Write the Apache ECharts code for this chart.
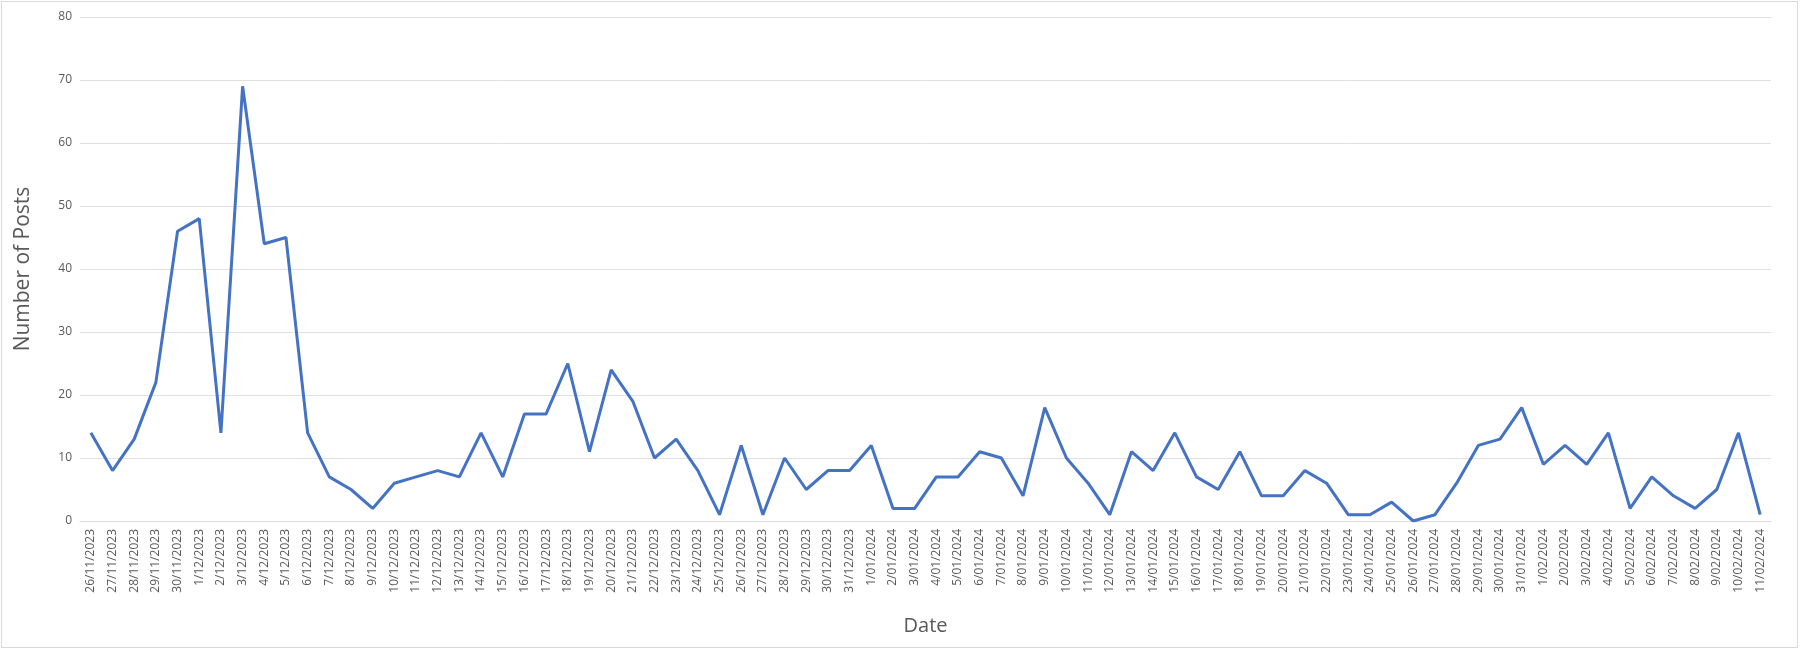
<!DOCTYPE html>
<html><head><meta charset="utf-8">
<script src="https://cdn.jsdelivr.net/npm/echarts@6/dist/echarts.min.js"></script>
<style>html,body{margin:0;padding:0;background:#fff}#c{width:1800px;height:650px}
#b{position:absolute;left:1px;top:1px;width:1795px;height:645px;border:1px solid #d9d9d9;pointer-events:none}</style>
</head><body><div id="c"></div><div id="b"></div>
<script>
const categories = ["26/11/2023","27/11/2023","28/11/2023","29/11/2023","30/11/2023","1/12/2023","2/12/2023","3/12/2023","4/12/2023","5/12/2023","6/12/2023","7/12/2023","8/12/2023","9/12/2023","10/12/2023","11/12/2023","12/12/2023","13/12/2023","14/12/2023","15/12/2023","16/12/2023","17/12/2023","18/12/2023","19/12/2023","20/12/2023","21/12/2023","22/12/2023","23/12/2023","24/12/2023","25/12/2023","26/12/2023","27/12/2023","28/12/2023","29/12/2023","30/12/2023","31/12/2023","1/01/2024","2/01/2024","3/01/2024","4/01/2024","5/01/2024","6/01/2024","7/01/2024","8/01/2024","9/01/2024","10/01/2024","11/01/2024","12/01/2024","13/01/2024","14/01/2024","15/01/2024","16/01/2024","17/01/2024","18/01/2024","19/01/2024","20/01/2024","21/01/2024","22/01/2024","23/01/2024","24/01/2024","25/01/2024","26/01/2024","27/01/2024","28/01/2024","29/01/2024","30/01/2024","31/01/2024","1/02/2024","2/02/2024","3/02/2024","4/02/2024","5/02/2024","6/02/2024","7/02/2024","8/02/2024","9/02/2024","10/02/2024","11/02/2024"];
const posts = [14,8,13,22,46,48,14,69,44,45,14,7,5,2,6,7,8,7,14,7,17,17,25,11,24,19,10,13,8,1,12,1,10,5,8,8,12,2,2,7,7,11,10,4,18,10,6,1,11,8,14,7,5,11,4,4,8,6,1,1,3,0,1,6,12,13,18,9,12,9,14,2,7,4,2,5,14,1];
const chart = echarts.init(document.getElementById('c'));
chart.setOption({
  animation:false,
  grid:{left:80,right:29,top:17,bottom:129},
  xAxis:{type:'category',data:categories,boundaryGap:true,name:'Date',nameLocation:'middle',nameGap:95,
    nameTextStyle:{fontSize:20,color:'#595959',fontFamily:'Open Sans'},
    axisLine:{lineStyle:{color:'#d9d9d9'}},axisTick:{show:false},
    axisLabel:{interval:0,rotate:90,fontSize:12,color:'#595959',fontFamily:'Open Sans'}},
  yAxis:{type:'value',min:0,max:80,interval:10,name:'Number of Posts',nameLocation:'middle',nameGap:46,
    nameTextStyle:{fontSize:21,color:'#595959',fontFamily:'Open Sans'},
    axisLabel:{fontSize:12,color:'#595959',fontFamily:'Open Sans'},
    splitLine:{lineStyle:{color:'#e0e0e0'}}},
  series:[{type:'line',data:posts,symbol:'none',lineStyle:{color:'#4472C4',width:3}}]
});
</script></body></html>
